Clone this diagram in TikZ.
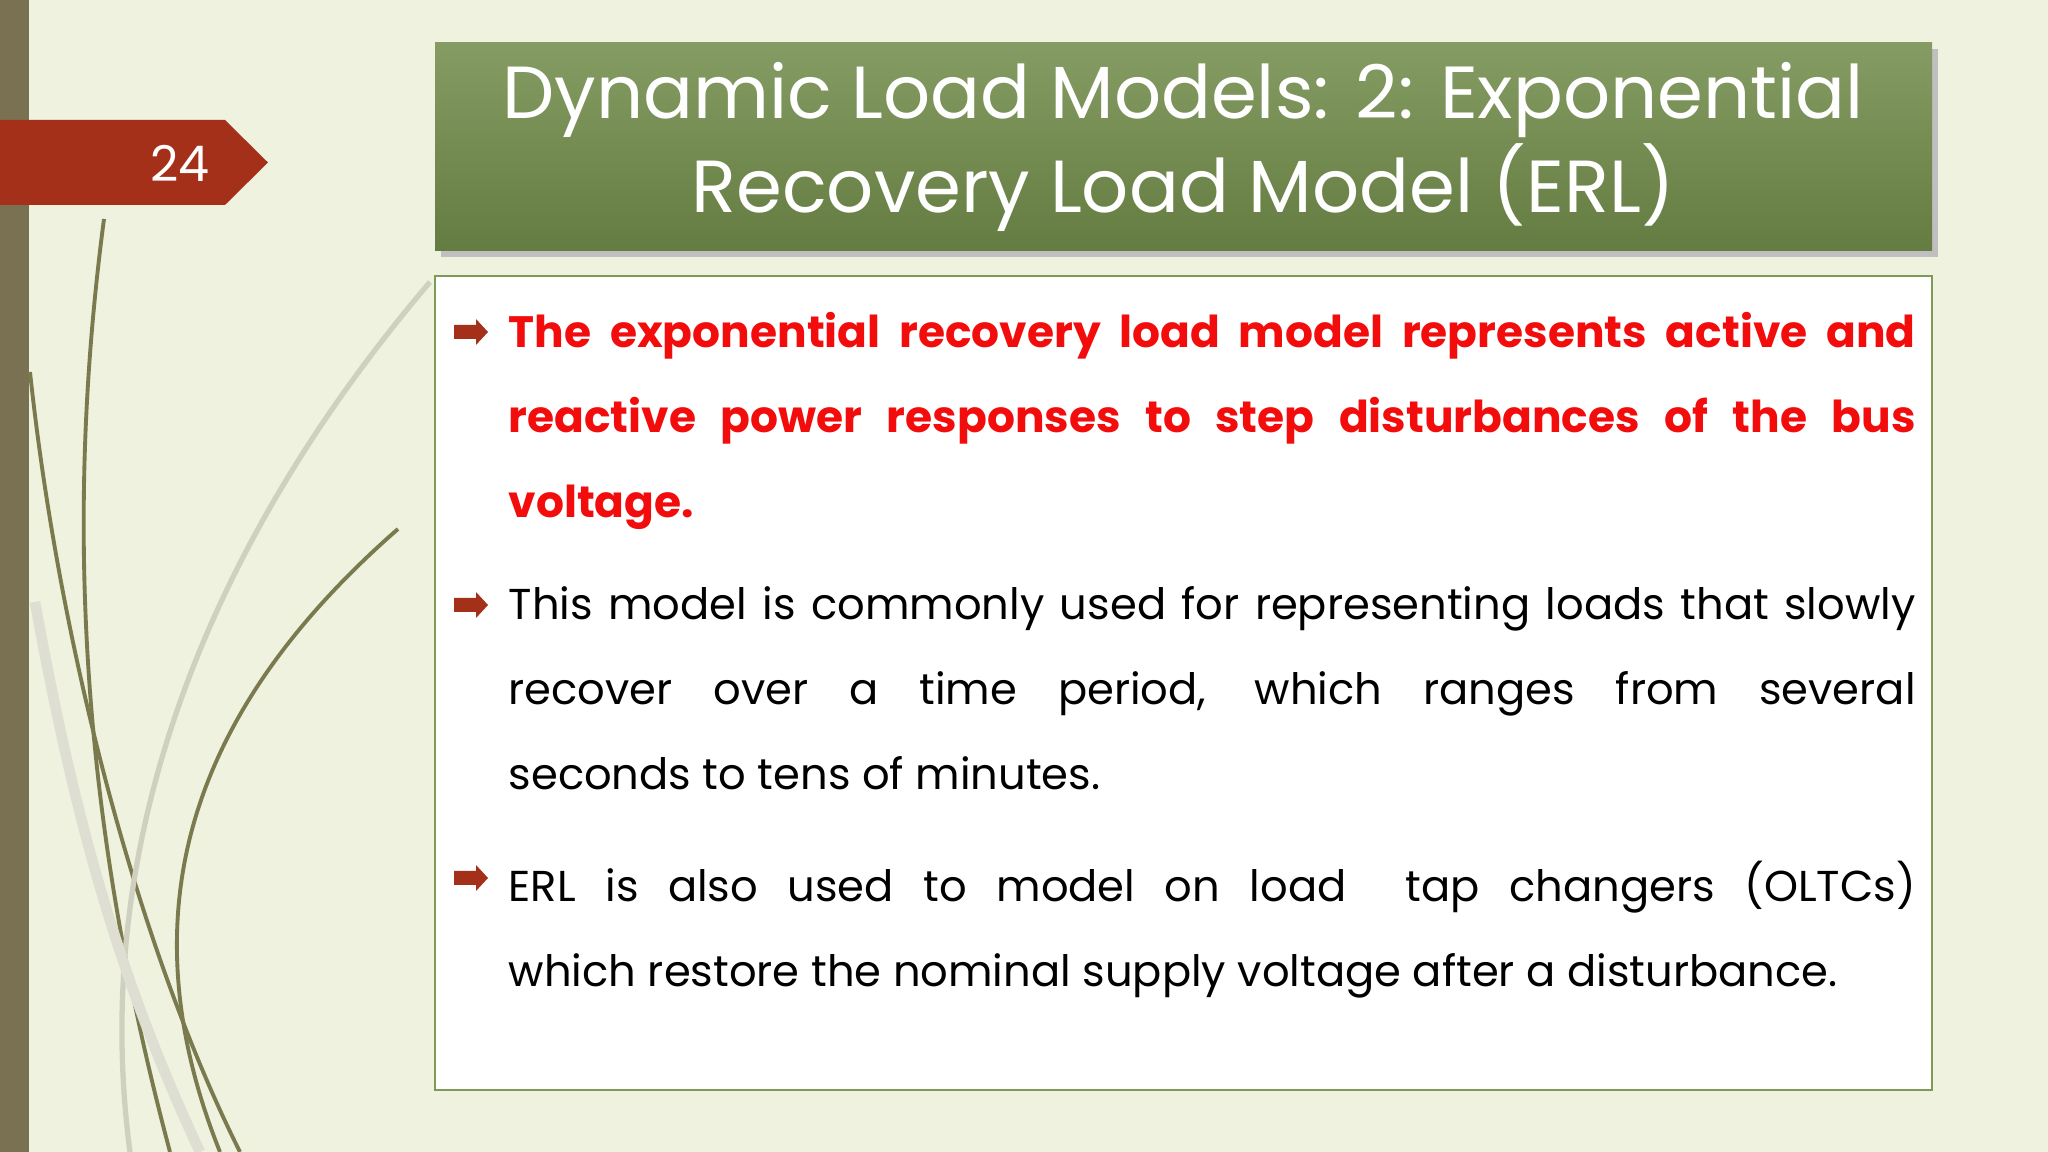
\documentclass[tikz,border=0pt]{standalone}
\usepackage{fontspec}
\setmainfont{Poppins}
\definecolor{bgcol}{HTML}{EEF2DE}
\definecolor{barcol}{HTML}{7A7052}
\definecolor{tabcol}{HTML}{A5301A}
\definecolor{titlecol}{HTML}{6F8A48}
\definecolor{framecol}{HTML}{7E9A56}
\definecolor{curvecol}{HTML}{7A7A4E}
\definecolor{redtext}{HTML}{F20C0C}
\hyphenpenalty=10000
\tikzset{
  bodytext/.style={anchor=north west, inner sep=0pt, text width=14.07cm, align=justify,
    font=\fontsize{12.3}{24.2}\selectfont},
  curve/.style={curvecol, line width=1.1pt}
}
\newcommand{\bulletarrow}[1]{%
  \fill[tabcol] (4.54,#1-0.07) -- (4.76,#1-0.07) -- (4.76,#1-0.13) -- (4.88,#1) -- (4.76,#1+0.13) -- (4.76,#1+0.07) -- (4.54,#1+0.07) -- cycle;}
\begin{document}
\begin{tikzpicture}
	\useasboundingbox (0,0) rectangle (20.48,11.52);
	
	% Background
	\fill[bgcol] (0,0) rectangle (20.48,11.52);
	\fill[barcol] (0,0) rectangle (0.29,11.52);
	
	% Decorative curves
	\draw[curve] (1.04,9.33) .. controls (0.6,6) and (0.9,3) .. (1.7,0);
	\draw[curve] (3.98,6.23) .. controls (2.0,4.5) and (1.2,2.5) .. (2.2,0);
	\draw[curve] (0.3,7.8) .. controls (0.6,5) and (1.4,2) .. (2.4,0);
	\draw[curvecol!35, line width=1.5pt] (4.3,8.7) .. controls (2,6) and (0.9,3) .. (1.3,0);
	\draw[curvecol!25, line width=3pt] (0.35,5.5) .. controls (0.8,3) and (1.3,1.5) .. (2.0,0);
	
	% Page number tab
	\fill[tabcol] (0,9.47) -- (2.25,9.47) -- (2.68,9.895) -- (2.25,10.32) -- (0,10.32) -- cycle;
	\node[text=white, font=\fontsize{14}{18}\selectfont] (page) at (1.80,9.89) {24};
	
	% Title
	\fill[black!25] (4.41,8.95) rectangle (19.38,11.03);
	\shade[top color=titlecol!85!white, bottom color=titlecol!90!black] (4.35,9.01) rectangle (19.32,11.09);
	\node[text=white, align=center, font=\fontsize{21}{27}\selectfont] (title) at (11.83,10.05)
		{Dynamic Load Models: 2: Exponential\\Recovery Load Model (ERL)};
	
	% Content frame
	\draw[framecol, fill=white, line width=0.8pt] (4.35,0.62) rectangle (19.32,8.76);
	
	% Bullets
	\bulletarrow{8.20}
	\bulletarrow{5.47}
	\bulletarrow{2.74}
	\node[bodytext, text=redtext, font=\fontsize{12.5}{24.2}\selectfont\bfseries] (b1) at (5.08,8.40)
		{The exponential recovery load model represents active and\linebreak
		 reactive power responses to step disturbances of the bus\linebreak
		 voltage.};
	\node[bodytext] (b2) at (5.08,5.66)
		{This model is commonly used for representing loads that slowly\linebreak
		 recover over a time period, which ranges from several\linebreak
		 seconds to tens of minutes.};
	\node[bodytext] (b3) at (5.08,2.92)
		{ERL is also used to model on load \ tap changers (OLTCs)\linebreak
		 which restore the nominal supply voltage after a disturbance.};
	
\end{tikzpicture}
\end{document}
